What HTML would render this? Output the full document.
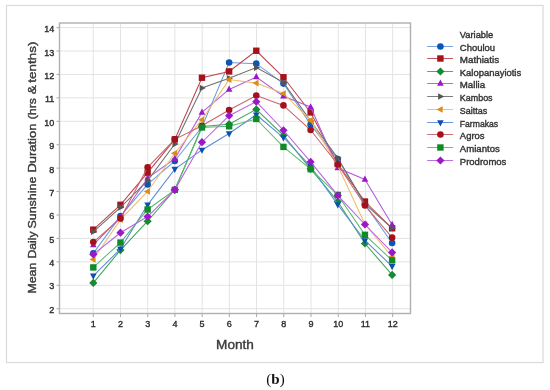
<!DOCTYPE html><html><head><meta charset="utf-8"><style>html,body{margin:0;padding:0;background:#fff;}svg{display:block;filter:blur(0.3px)}text{font-family:"Liberation Sans",Arial,sans-serif;}</style></head><body>
<svg width="550" height="390" viewBox="0 0 550 390">
<rect x="6.5" y="5.5" width="536.5" height="357" fill="none" stroke="#dcdcdc" stroke-width="1.3"/>
<g stroke="#e3e3e3" stroke-width="1"><line x1="59.5" y1="308.71" x2="410.5" y2="308.71"/><line x1="59.5" y1="285.28" x2="410.5" y2="285.28"/><line x1="59.5" y1="261.86" x2="410.5" y2="261.86"/><line x1="59.5" y1="238.43" x2="410.5" y2="238.43"/><line x1="59.5" y1="215.01" x2="410.5" y2="215.01"/><line x1="59.5" y1="191.58" x2="410.5" y2="191.58"/><line x1="59.5" y1="168.15" x2="410.5" y2="168.15"/><line x1="59.5" y1="144.73" x2="410.5" y2="144.73"/><line x1="59.5" y1="121.30" x2="410.5" y2="121.30"/><line x1="59.5" y1="97.88" x2="410.5" y2="97.88"/><line x1="59.5" y1="74.45" x2="410.5" y2="74.45"/><line x1="59.5" y1="51.02" x2="410.5" y2="51.02"/><line x1="59.5" y1="27.60" x2="410.5" y2="27.60"/><line x1="93.25" y1="23.0" x2="93.25" y2="313.5"/><line x1="120.47" y1="23.0" x2="120.47" y2="313.5"/><line x1="147.69" y1="23.0" x2="147.69" y2="313.5"/><line x1="174.91" y1="23.0" x2="174.91" y2="313.5"/><line x1="202.13" y1="23.0" x2="202.13" y2="313.5"/><line x1="229.35" y1="23.0" x2="229.35" y2="313.5"/><line x1="256.57" y1="23.0" x2="256.57" y2="313.5"/><line x1="283.79" y1="23.0" x2="283.79" y2="313.5"/><line x1="311.01" y1="23.0" x2="311.01" y2="313.5"/><line x1="338.23" y1="23.0" x2="338.23" y2="313.5"/><line x1="365.45" y1="23.0" x2="365.45" y2="313.5"/><line x1="392.67" y1="23.0" x2="392.67" y2="313.5"/></g>
<g stroke="#a8a8a8" stroke-width="1"><line x1="56.5" y1="308.71" x2="59.5" y2="308.71"/><line x1="56.5" y1="285.28" x2="59.5" y2="285.28"/><line x1="56.5" y1="261.86" x2="59.5" y2="261.86"/><line x1="56.5" y1="238.43" x2="59.5" y2="238.43"/><line x1="56.5" y1="215.01" x2="59.5" y2="215.01"/><line x1="56.5" y1="191.58" x2="59.5" y2="191.58"/><line x1="56.5" y1="168.15" x2="59.5" y2="168.15"/><line x1="56.5" y1="144.73" x2="59.5" y2="144.73"/><line x1="56.5" y1="121.30" x2="59.5" y2="121.30"/><line x1="56.5" y1="97.88" x2="59.5" y2="97.88"/><line x1="56.5" y1="74.45" x2="59.5" y2="74.45"/><line x1="56.5" y1="51.02" x2="59.5" y2="51.02"/><line x1="56.5" y1="27.60" x2="59.5" y2="27.60"/><line x1="93.25" y1="313.5" x2="93.25" y2="317.0"/><line x1="120.47" y1="313.5" x2="120.47" y2="317.0"/><line x1="147.69" y1="313.5" x2="147.69" y2="317.0"/><line x1="174.91" y1="313.5" x2="174.91" y2="317.0"/><line x1="202.13" y1="313.5" x2="202.13" y2="317.0"/><line x1="229.35" y1="313.5" x2="229.35" y2="317.0"/><line x1="256.57" y1="313.5" x2="256.57" y2="317.0"/><line x1="283.79" y1="313.5" x2="283.79" y2="317.0"/><line x1="311.01" y1="313.5" x2="311.01" y2="317.0"/><line x1="338.23" y1="313.5" x2="338.23" y2="317.0"/><line x1="365.45" y1="313.5" x2="365.45" y2="317.0"/><line x1="392.67" y1="313.5" x2="392.67" y2="317.0"/></g>
<rect x="59.5" y="23.0" width="351.0" height="290.5" fill="none" stroke="#b0b0b0" stroke-width="1.4"/>
<g font-size="9" fill="#2a2a2a" stroke="#2a2a2a" stroke-width="0.35"><text x="54.3" y="312.66" text-anchor="end">2</text><text x="54.3" y="289.30" text-anchor="end">3</text><text x="54.3" y="265.94" text-anchor="end">4</text><text x="54.3" y="242.58" text-anchor="end">5</text><text x="54.3" y="219.22" text-anchor="end">6</text><text x="54.3" y="195.86" text-anchor="end">7</text><text x="54.3" y="172.50" text-anchor="end">8</text><text x="54.3" y="149.14" text-anchor="end">9</text><text x="54.3" y="125.78" text-anchor="end">10</text><text x="54.3" y="102.42" text-anchor="end">11</text><text x="54.3" y="79.06" text-anchor="end">12</text><text x="54.3" y="55.70" text-anchor="end">13</text><text x="54.3" y="32.34" text-anchor="end">14</text><text x="93.25" y="327.1" text-anchor="middle">1</text><text x="120.47" y="327.1" text-anchor="middle">2</text><text x="147.69" y="327.1" text-anchor="middle">3</text><text x="174.91" y="327.1" text-anchor="middle">4</text><text x="202.13" y="327.1" text-anchor="middle">5</text><text x="229.35" y="327.1" text-anchor="middle">6</text><text x="256.57" y="327.1" text-anchor="middle">7</text><text x="283.79" y="327.1" text-anchor="middle">8</text><text x="311.01" y="327.1" text-anchor="middle">9</text><text x="338.23" y="327.1" text-anchor="middle">10</text><text x="365.45" y="327.1" text-anchor="middle">11</text><text x="392.67" y="327.1" text-anchor="middle">12</text></g>
<text x="235" y="348.5" font-size="11.9" fill="#383838" stroke="#383838" stroke-width="0.35" text-anchor="middle" textLength="37.8" lengthAdjust="spacingAndGlyphs">Month</text>
<g transform="translate(35.7,0) rotate(-90)" font-size="11.8" fill="#3a3a3a" stroke="#3a3a3a" stroke-width="0.4"><text x="-293.60" y="0" textLength="31.00" lengthAdjust="spacingAndGlyphs">Mean</text><text x="-258.60" y="0" textLength="27.20" lengthAdjust="spacingAndGlyphs">Daily</text><text x="-228.60" y="0" textLength="52.00" lengthAdjust="spacingAndGlyphs">Sunshine</text><text x="-172.60" y="0" textLength="49.00" lengthAdjust="spacingAndGlyphs">Duration</text><text x="-119.20" y="0" textLength="21.00" lengthAdjust="spacingAndGlyphs">(hrs</text><text x="-94.30" y="0" textLength="9.10" lengthAdjust="spacingAndGlyphs">&amp;</text><text x="-82.80" y="0" textLength="41.20" lengthAdjust="spacingAndGlyphs">tenths)</text></g>
<polyline points="93.30,253.36 120.47,216.07 147.63,184.41 174.80,160.96 201.96,126.96 229.12,62.47 256.29,63.65 283.45,83.58 310.62,124.62 337.78,159.09 364.95,204.35 392.12,243.04" fill="none" stroke="#6b9edd" stroke-width="1.05"/>
<g><circle cx="93.30" cy="253.36" r="3.3" fill="#0a55b5"/><circle cx="120.47" cy="216.07" r="3.3" fill="#0a55b5"/><circle cx="147.63" cy="184.41" r="3.3" fill="#0a55b5"/><circle cx="174.80" cy="160.96" r="3.3" fill="#0a55b5"/><circle cx="201.96" cy="126.96" r="3.3" fill="#0a55b5"/><circle cx="229.12" cy="62.47" r="3.3" fill="#0a55b5"/><circle cx="256.29" cy="63.65" r="3.3" fill="#0a55b5"/><circle cx="283.45" cy="83.58" r="3.3" fill="#0a55b5"/><circle cx="310.62" cy="124.62" r="3.3" fill="#0a55b5"/><circle cx="337.78" cy="159.09" r="3.3" fill="#0a55b5"/><circle cx="364.95" cy="204.35" r="3.3" fill="#0a55b5"/><circle cx="392.12" cy="243.04" r="3.3" fill="#0a55b5"/></g>
<polyline points="93.30,229.67 120.47,204.82 147.63,172.69 174.80,139.39 201.96,77.72 229.12,71.39 256.29,50.75 283.45,77.25 310.62,112.42 337.78,164.01 364.95,201.53 392.12,228.27" fill="none" stroke="#bc454e" stroke-width="1.05"/>
<g><rect x="90.10" y="226.47" width="6.40" height="6.40" fill="#a5121a"/><rect x="117.27" y="201.62" width="6.40" height="6.40" fill="#a5121a"/><rect x="144.43" y="169.49" width="6.40" height="6.40" fill="#a5121a"/><rect x="171.60" y="136.19" width="6.40" height="6.40" fill="#a5121a"/><rect x="198.76" y="74.52" width="6.40" height="6.40" fill="#a5121a"/><rect x="225.93" y="68.19" width="6.40" height="6.40" fill="#a5121a"/><rect x="253.09" y="47.55" width="6.40" height="6.40" fill="#a5121a"/><rect x="280.25" y="74.05" width="6.40" height="6.40" fill="#a5121a"/><rect x="307.42" y="109.22" width="6.40" height="6.40" fill="#a5121a"/><rect x="334.58" y="160.81" width="6.40" height="6.40" fill="#a5121a"/><rect x="361.75" y="198.33" width="6.40" height="6.40" fill="#a5121a"/><rect x="388.92" y="225.07" width="6.40" height="6.40" fill="#a5121a"/></g>
<polyline points="93.30,282.90 120.47,250.07 147.63,221.23 174.80,189.81 201.96,126.49 229.12,124.15 256.29,109.38 283.45,135.40 310.62,168.94 337.78,201.53 364.95,243.51 392.12,274.93" fill="none" stroke="#3fa45a" stroke-width="1.05"/>
<g><polygon points="93.30,278.80 97.40,282.90 93.30,287.00 89.20,282.90" fill="#178a35"/><polygon points="120.47,245.97 124.56,250.07 120.47,254.17 116.37,250.07" fill="#178a35"/><polygon points="147.63,217.13 151.73,221.23 147.63,225.33 143.53,221.23" fill="#178a35"/><polygon points="174.80,185.71 178.90,189.81 174.80,193.91 170.70,189.81" fill="#178a35"/><polygon points="201.96,122.39 206.06,126.49 201.96,130.59 197.86,126.49" fill="#178a35"/><polygon points="229.12,120.05 233.22,124.15 229.12,128.25 225.03,124.15" fill="#178a35"/><polygon points="256.29,105.28 260.39,109.38 256.29,113.47 252.19,109.38" fill="#178a35"/><polygon points="283.45,131.30 287.56,135.40 283.45,139.50 279.35,135.40" fill="#178a35"/><polygon points="310.62,164.84 314.72,168.94 310.62,173.04 306.52,168.94" fill="#178a35"/><polygon points="337.78,197.43 341.88,201.53 337.78,205.63 333.68,201.53" fill="#178a35"/><polygon points="364.95,239.41 369.05,243.51 364.95,247.61 360.85,243.51" fill="#178a35"/><polygon points="392.12,270.83 396.22,274.93 392.12,279.03 388.01,274.93" fill="#178a35"/></g>
<polyline points="93.30,244.92 120.47,217.24 147.63,178.08 174.80,158.62 201.96,112.42 229.12,89.44 256.29,77.01 283.45,96.24 310.62,107.03 337.78,168.00 364.95,179.49 392.12,224.75" fill="none" stroke="#af5cdc" stroke-width="1.05"/>
<g><polygon points="93.30,241.02 96.60,247.22 90.00,247.22" fill="#9a18c8"/><polygon points="120.47,213.34 123.77,219.54 117.17,219.54" fill="#9a18c8"/><polygon points="147.63,174.18 150.93,180.38 144.33,180.38" fill="#9a18c8"/><polygon points="174.80,154.72 178.10,160.92 171.50,160.92" fill="#9a18c8"/><polygon points="201.96,108.52 205.26,114.72 198.66,114.72" fill="#9a18c8"/><polygon points="229.12,85.54 232.43,91.74 225.82,91.74" fill="#9a18c8"/><polygon points="256.29,73.11 259.59,79.31 252.99,79.31" fill="#9a18c8"/><polygon points="283.45,92.34 286.75,98.54 280.15,98.54" fill="#9a18c8"/><polygon points="310.62,103.13 313.92,109.33 307.32,109.33" fill="#9a18c8"/><polygon points="337.78,164.10 341.08,170.30 334.48,170.30" fill="#9a18c8"/><polygon points="364.95,175.59 368.25,181.79 361.65,181.79" fill="#9a18c8"/><polygon points="392.12,220.85 395.42,227.05 388.81,227.05" fill="#9a18c8"/></g>
<polyline points="93.30,231.78 120.47,207.40 147.63,180.66 174.80,144.08 201.96,88.04 229.12,78.19 256.29,67.63 283.45,82.41 310.62,121.10 337.78,157.92 364.95,203.88 392.12,228.27" fill="none" stroke="#707070" stroke-width="1.05"/>
<g><polygon points="97.20,231.78 91.00,228.48 91.00,235.08" fill="#555555"/><polygon points="124.37,207.40 118.17,204.10 118.17,210.70" fill="#555555"/><polygon points="151.53,180.66 145.33,177.36 145.33,183.96" fill="#555555"/><polygon points="178.70,144.08 172.50,140.78 172.50,147.38" fill="#555555"/><polygon points="205.86,88.04 199.66,84.74 199.66,91.34" fill="#555555"/><polygon points="233.03,78.19 226.82,74.89 226.82,81.49" fill="#555555"/><polygon points="260.19,67.63 253.99,64.33 253.99,70.93" fill="#555555"/><polygon points="287.35,82.41 281.15,79.11 281.15,85.71" fill="#555555"/><polygon points="314.52,121.10 308.32,117.80 308.32,124.40" fill="#555555"/><polygon points="341.68,157.92 335.48,154.62 335.48,161.22" fill="#555555"/><polygon points="368.85,203.88 362.65,200.58 362.65,207.18" fill="#555555"/><polygon points="396.01,228.27 389.81,224.97 389.81,231.57" fill="#555555"/></g>
<polyline points="93.30,259.45 120.47,219.59 147.63,191.45 174.80,153.23 201.96,119.69 229.12,79.59 256.29,83.11 283.45,93.43 310.62,120.40 337.78,165.66 364.95,224.28 392.12,256.64" fill="none" stroke="#eebd6c" stroke-width="1.05"/>
<g><polygon points="89.40,259.45 95.60,256.15 95.60,262.75" fill="#dc8c14"/><polygon points="116.56,219.59 122.77,216.29 122.77,222.89" fill="#dc8c14"/><polygon points="143.73,191.45 149.93,188.15 149.93,194.75" fill="#dc8c14"/><polygon points="170.90,153.23 177.10,149.93 177.10,156.53" fill="#dc8c14"/><polygon points="198.06,119.69 204.26,116.39 204.26,122.99" fill="#dc8c14"/><polygon points="225.22,79.59 231.43,76.29 231.43,82.89" fill="#dc8c14"/><polygon points="252.39,83.11 258.59,79.81 258.59,86.41" fill="#dc8c14"/><polygon points="279.56,93.43 285.75,90.13 285.75,96.73" fill="#dc8c14"/><polygon points="306.72,120.40 312.92,117.10 312.92,123.70" fill="#dc8c14"/><polygon points="333.88,165.66 340.08,162.35 340.08,168.96" fill="#dc8c14"/><polygon points="361.05,224.28 367.25,220.98 367.25,227.58" fill="#dc8c14"/><polygon points="388.22,256.64 394.42,253.34 394.42,259.94" fill="#dc8c14"/></g>
<polyline points="93.30,275.87 120.47,248.90 147.63,204.82 174.80,169.17 201.96,149.94 229.12,133.53 256.29,114.77 283.45,137.51 310.62,166.36 337.78,204.58 364.95,240.46 392.12,266.26" fill="none" stroke="#5c8dd5" stroke-width="1.05"/>
<g><polygon points="93.30,279.77 96.60,273.57 90.00,273.57" fill="#0c4fb0"/><polygon points="120.47,252.80 123.77,246.60 117.17,246.60" fill="#0c4fb0"/><polygon points="147.63,208.72 150.93,202.52 144.33,202.52" fill="#0c4fb0"/><polygon points="174.80,173.07 178.10,166.87 171.50,166.87" fill="#0c4fb0"/><polygon points="201.96,153.84 205.26,147.64 198.66,147.64" fill="#0c4fb0"/><polygon points="229.12,137.43 232.43,131.23 225.82,131.23" fill="#0c4fb0"/><polygon points="256.29,118.67 259.59,112.47 252.99,112.47" fill="#0c4fb0"/><polygon points="283.45,141.41 286.75,135.21 280.15,135.21" fill="#0c4fb0"/><polygon points="310.62,170.26 313.92,164.06 307.32,164.06" fill="#0c4fb0"/><polygon points="337.78,208.48 341.08,202.28 334.48,202.28" fill="#0c4fb0"/><polygon points="364.95,244.36 368.25,238.16 361.65,238.16" fill="#0c4fb0"/><polygon points="392.12,270.16 395.42,263.96 388.81,263.96" fill="#0c4fb0"/></g>
<polyline points="93.30,242.10 120.47,218.42 147.63,167.30 174.80,139.39 201.96,125.79 229.12,110.08 256.29,95.54 283.45,105.39 310.62,130.01 337.78,164.48 364.95,205.52 392.12,237.65" fill="none" stroke="#c86369" stroke-width="1.05"/>
<g><circle cx="93.30" cy="242.10" r="3.3" fill="#a3121a"/><circle cx="120.47" cy="218.42" r="3.3" fill="#a3121a"/><circle cx="147.63" cy="167.30" r="3.3" fill="#a3121a"/><circle cx="174.80" cy="139.39" r="3.3" fill="#a3121a"/><circle cx="201.96" cy="125.79" r="3.3" fill="#a3121a"/><circle cx="229.12" cy="110.08" r="3.3" fill="#a3121a"/><circle cx="256.29" cy="95.54" r="3.3" fill="#a3121a"/><circle cx="283.45" cy="105.39" r="3.3" fill="#a3121a"/><circle cx="310.62" cy="130.01" r="3.3" fill="#a3121a"/><circle cx="337.78" cy="164.48" r="3.3" fill="#a3121a"/><circle cx="364.95" cy="205.52" r="3.3" fill="#a3121a"/><circle cx="392.12" cy="237.65" r="3.3" fill="#a3121a"/></g>
<polyline points="93.30,267.43 120.47,242.57 147.63,209.51 174.80,189.81 201.96,127.43 229.12,126.26 256.29,118.99 283.45,146.89 310.62,169.17 337.78,194.97 364.95,234.83 392.12,260.39" fill="none" stroke="#5eb870" stroke-width="1.05"/>
<g><rect x="90.10" y="264.23" width="6.40" height="6.40" fill="#0e8a26"/><rect x="117.27" y="239.37" width="6.40" height="6.40" fill="#0e8a26"/><rect x="144.43" y="206.31" width="6.40" height="6.40" fill="#0e8a26"/><rect x="171.60" y="186.61" width="6.40" height="6.40" fill="#0e8a26"/><rect x="198.76" y="124.23" width="6.40" height="6.40" fill="#0e8a26"/><rect x="225.93" y="123.06" width="6.40" height="6.40" fill="#0e8a26"/><rect x="253.09" y="115.79" width="6.40" height="6.40" fill="#0e8a26"/><rect x="280.25" y="143.69" width="6.40" height="6.40" fill="#0e8a26"/><rect x="307.42" y="165.97" width="6.40" height="6.40" fill="#0e8a26"/><rect x="334.58" y="191.77" width="6.40" height="6.40" fill="#0e8a26"/><rect x="361.75" y="231.63" width="6.40" height="6.40" fill="#0e8a26"/><rect x="388.92" y="257.19" width="6.40" height="6.40" fill="#0e8a26"/></g>
<polyline points="93.30,254.30 120.47,232.72 147.63,216.54 174.80,189.81 201.96,142.21 229.12,115.71 256.29,101.64 283.45,130.25 310.62,161.90 337.78,195.44 364.95,224.51 392.12,252.42" fill="none" stroke="#b862e0" stroke-width="1.05"/>
<g><polygon points="93.30,250.20 97.40,254.30 93.30,258.40 89.20,254.30" fill="#9a18c8"/><polygon points="120.47,228.62 124.56,232.72 120.47,236.82 116.37,232.72" fill="#9a18c8"/><polygon points="147.63,212.44 151.73,216.54 147.63,220.64 143.53,216.54" fill="#9a18c8"/><polygon points="174.80,185.71 178.90,189.81 174.80,193.91 170.70,189.81" fill="#9a18c8"/><polygon points="201.96,138.11 206.06,142.21 201.96,146.31 197.86,142.21" fill="#9a18c8"/><polygon points="229.12,111.61 233.22,115.71 229.12,119.81 225.03,115.71" fill="#9a18c8"/><polygon points="256.29,97.54 260.39,101.64 256.29,105.74 252.19,101.64" fill="#9a18c8"/><polygon points="283.45,126.15 287.56,130.25 283.45,134.35 279.35,130.25" fill="#9a18c8"/><polygon points="310.62,157.80 314.72,161.90 310.62,166.00 306.52,161.90" fill="#9a18c8"/><polygon points="337.78,191.34 341.88,195.44 337.78,199.54 333.68,195.44" fill="#9a18c8"/><polygon points="364.95,220.41 369.05,224.51 364.95,228.61 360.85,224.51" fill="#9a18c8"/><polygon points="392.12,248.32 396.22,252.42 392.12,256.52 388.01,252.42" fill="#9a18c8"/></g>
<text x="459.8" y="37.9" font-size="9.8" fill="#333" stroke="#333" stroke-width="0.4" textLength="33.5" lengthAdjust="spacingAndGlyphs">Variable</text>
<line x1="427.2" y1="46.50" x2="453.1" y2="46.50" stroke="#79a6e0" stroke-width="1"/>
<circle cx="440.40" cy="46.50" r="3.3" fill="#0a55b5"/>
<text x="459.8" y="50.80" font-size="9.8" fill="#333" stroke="#333" stroke-width="0.4" textLength="35.3" lengthAdjust="spacingAndGlyphs">Choulou</text>
<line x1="427.2" y1="58.50" x2="453.1" y2="58.50" stroke="#c2555d" stroke-width="1"/>
<rect x="437.20" y="55.30" width="6.40" height="6.40" fill="#a5121a"/>
<text x="459.8" y="62.80" font-size="9.8" fill="#333" stroke="#333" stroke-width="0.4" textLength="39.4" lengthAdjust="spacingAndGlyphs">Mathiatis</text>
<line x1="427.2" y1="71.50" x2="453.1" y2="71.50" stroke="#50ac69" stroke-width="1"/>
<polygon points="440.40,67.40 444.50,71.50 440.40,75.60 436.30,71.50" fill="#178a35"/>
<text x="459.8" y="75.80" font-size="9.8" fill="#333" stroke="#333" stroke-width="0.4" textLength="61.4" lengthAdjust="spacingAndGlyphs">Kalopanayiotis</text>
<line x1="427.2" y1="83.50" x2="453.1" y2="83.50" stroke="#b66bdf" stroke-width="1"/>
<polygon points="440.40,79.60 443.70,85.80 437.10,85.80" fill="#9a18c8"/>
<text x="459.8" y="87.80" font-size="9.8" fill="#333" stroke="#333" stroke-width="0.4" textLength="25.3" lengthAdjust="spacingAndGlyphs">Mallia</text>
<line x1="427.2" y1="96.50" x2="453.1" y2="96.50" stroke="#7d7d7d" stroke-width="1"/>
<polygon points="444.30,96.50 438.10,93.20 438.10,99.80" fill="#555555"/>
<text x="459.8" y="100.80" font-size="9.8" fill="#333" stroke="#333" stroke-width="0.4" textLength="32.8" lengthAdjust="spacingAndGlyphs">Kambos</text>
<line x1="427.2" y1="109.50" x2="453.1" y2="109.50" stroke="#efc379" stroke-width="1"/>
<polygon points="436.50,109.50 442.70,106.20 442.70,112.80" fill="#dc8c14"/>
<text x="459.8" y="113.80" font-size="9.8" fill="#333" stroke="#333" stroke-width="0.4" textLength="27.4" lengthAdjust="spacingAndGlyphs">Saittas</text>
<line x1="427.2" y1="122.50" x2="453.1" y2="122.50" stroke="#6b97d8" stroke-width="1"/>
<polygon points="440.40,126.40 443.70,120.20 437.10,120.20" fill="#0c4fb0"/>
<text x="459.8" y="126.80" font-size="9.8" fill="#333" stroke="#333" stroke-width="0.4" textLength="38.3" lengthAdjust="spacingAndGlyphs">Farmakas</text>
<line x1="427.2" y1="134.50" x2="453.1" y2="134.50" stroke="#cd7176" stroke-width="1"/>
<circle cx="440.40" cy="134.50" r="3.3" fill="#a3121a"/>
<text x="459.8" y="138.80" font-size="9.8" fill="#333" stroke="#333" stroke-width="0.4" textLength="24.8" lengthAdjust="spacingAndGlyphs">Agros</text>
<line x1="427.2" y1="147.50" x2="453.1" y2="147.50" stroke="#6cbe7d" stroke-width="1"/>
<rect x="437.20" y="144.30" width="6.40" height="6.40" fill="#0e8a26"/>
<text x="459.8" y="151.80" font-size="9.8" fill="#333" stroke="#333" stroke-width="0.4" textLength="40" lengthAdjust="spacingAndGlyphs">Amiantos</text>
<line x1="427.2" y1="160.50" x2="453.1" y2="160.50" stroke="#be70e2" stroke-width="1"/>
<polygon points="440.40,156.40 444.50,160.50 440.40,164.60 436.30,160.50" fill="#9a18c8"/>
<text x="459.8" y="164.80" font-size="9.8" fill="#333" stroke="#333" stroke-width="0.4" textLength="46.6" lengthAdjust="spacingAndGlyphs">Prodromos</text>
<text x="275.5" y="384.1" font-size="15" text-anchor="middle" style="font-family:'Liberation Serif',serif" fill="#111">(<tspan font-weight="bold">b</tspan>)</text>
</svg></body></html>
